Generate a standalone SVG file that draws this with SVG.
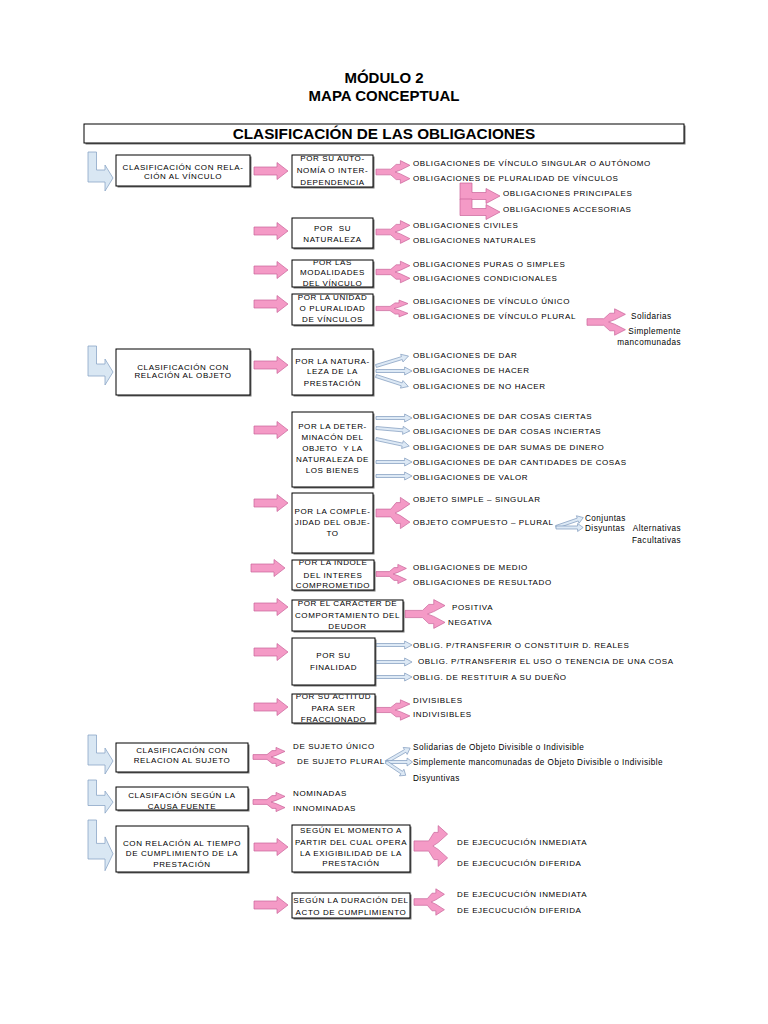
<svg xmlns="http://www.w3.org/2000/svg" xmlns:xlink="http://www.w3.org/1999/xlink" width="768" height="1024" viewBox="0 0 768 1024">
<defs>
<style>
.bg{fill:#fff}
.bx{fill:#fff;stroke:#000;stroke-width:1}
.sh{fill:#777}
.t{font-family:"Liberation Sans",Arial,sans-serif;font-size:8px;letter-spacing:0.6px;fill:#000}
.c{text-anchor:middle}
.e{text-anchor:end}
.s{font-family:"Liberation Sans",Arial,sans-serif;font-size:8.2px;letter-spacing:0.45px;fill:#000}
.h{font-family:"Liberation Sans",Arial,sans-serif;font-weight:bold;font-size:15px;text-anchor:middle;fill:#000}
.hh{font-size:15.3px}
.pk{fill:#f49ac6;stroke:#c9639a;stroke-width:0.7}
.lb{fill:#d9e7f3;stroke:#8ca6c6;stroke-width:0.8}
.bl{fill:#dde9f5;stroke:#7c98bb;stroke-width:0.7}
</style>
<path id="pa" d="M0,-4 H23 V-8.5 L34,0 L23,8.5 V4 H0 Z" vector-effect="non-scaling-stroke"/>
<path id="fk" d="M0,-3 H14 L19,-8 H23 V-12 L32,-7 L23,-2 L18,0 L23,2 L32,7 L23,12 V8 H19 L14,3 H0 Z" vector-effect="non-scaling-stroke"/>
<path id="lbx" d="M0,0 H8.5 V18 H17 V13 L25,26 L17,39 V30 H0 Z" vector-effect="non-scaling-stroke"/>
<path id="lp" d="M0,0 H12 V9.5 H26 V5.5 L40,13 L26,20.5 V16.5 H0 Z" vector-effect="non-scaling-stroke"/>
<path id="ba" d="M0,-1.5 H27 V-4 L34,0 L27,4 V1.5 H0 Z" vector-effect="non-scaling-stroke"/>
<clipPath id="c_auto"><rect x="292.5" y="155.5" width="80" height="31"/></clipPath>
<clipPath id="c_mod"><rect x="292.5" y="260.5" width="80" height="26"/></clipPath>
<clipPath id="c_uni"><rect x="292.5" y="294.5" width="80" height="30"/></clipPath>
<clipPath id="c_ind"><rect x="292.5" y="560.5" width="81" height="29"/></clipPath>
<clipPath id="c_car"><rect x="292.5" y="600.5" width="110" height="30"/></clipPath>
<clipPath id="c_act"><rect x="292.5" y="694.5" width="82" height="28"/></clipPath>
</defs>
<rect class="bg" x="0" y="0" width="768" height="1024"/>

<g id="title">
<text class="h" x="384" y="83">MÓDULO 2</text>
<text class="h" x="384" y="101">MAPA CONCEPTUAL</text>
</g>
<g id="header">
<rect class="sh" x="85.5" y="125.5" width="600" height="19"/>
<rect class="bx" x="84" y="124" width="600" height="19"/>
<text class="h hh" x="384" y="139">CLASIFICACIÓN DE LAS OBLIGACIONES</text>
</g>

<g id="connectors">
<use href="#lbx" class="lb" transform="translate(88,152)"/>
<use href="#lbx" class="lb" transform="translate(88,346)"/>
<use href="#lbx" class="lb" transform="translate(88,735)"/>
<use href="#lbx" class="lb" transform="translate(88,780) scale(1,0.85)"/>
<use href="#lbx" class="lb" transform="translate(88,820) scale(1,1.3)"/>

<use href="#pa" class="pk" transform="translate(254,171)"/>
<use href="#pa" class="pk" transform="translate(254,231)"/>
<use href="#pa" class="pk" transform="translate(254,270)"/>
<use href="#pa" class="pk" transform="translate(254,304)"/>
<use href="#pa" class="pk" transform="translate(254,365)"/>
<use href="#pa" class="pk" transform="translate(254,430)"/>
<use href="#pa" class="pk" transform="translate(254,503)"/>
<use href="#pa" class="pk" transform="translate(251,568)"/>
<use href="#pa" class="pk" transform="translate(254,607)"/>
<use href="#pa" class="pk" transform="translate(254,652)"/>
<use href="#pa" class="pk" transform="translate(254,707)"/>
<use href="#pa" class="pk" transform="translate(254,847)"/>
<use href="#pa" class="pk" transform="translate(254,905)"/>

<use href="#fk" class="pk" transform="translate(376,172) scale(1.06,0.95)"/>
<use href="#fk" class="pk" transform="translate(376,232) scale(1.06,0.95)"/>
<use href="#fk" class="pk" transform="translate(376,272) scale(1.06,0.9)"/>
<use href="#fk" class="pk" transform="translate(376,308.5) scale(1.0,0.7)"/>
<use href="#fk" class="pk" transform="translate(587,322) scale(1.2,1.1)"/>
<use href="#fk" class="pk" transform="translate(376,513) scale(1.06,1.3)"/>
<use href="#fk" class="pk" transform="translate(376,574) scale(0.95,0.8)"/>
<use href="#fk" class="pk" transform="translate(405,614) scale(1.25,1.2)"/>
<use href="#fk" class="pk" transform="translate(376,710) scale(1.06,0.85)"/>
<use href="#fk" class="pk" transform="translate(253,757) scale(1.0,0.8)"/>
<use href="#fk" class="pk" transform="translate(253,802) scale(1.0,0.8)"/>
<use href="#fk" class="pk" transform="translate(414,846) scale(1.05,1.7)"/>
<use href="#fk" class="pk" transform="translate(414,902) scale(0.95,1.1)"/>

<use href="#lp" class="pk" transform="translate(460,183)"/>
<use href="#lp" class="pk" transform="translate(460,199)"/>

<use href="#ba" class="bl" transform="translate(376,366) rotate(-17)"/>
<use href="#ba" class="bl" transform="translate(376,371) scale(1.06,1)"/>
<use href="#ba" class="bl" transform="translate(376,376) rotate(18)"/>

<use href="#ba" class="bl" transform="translate(376,418) scale(1.06,1)"/>
<use href="#ba" class="bl" transform="translate(376,428) rotate(5)"/>
<use href="#ba" class="bl" transform="translate(376,439) rotate(12)"/>
<use href="#ba" class="bl" transform="translate(376,462) scale(1.06,1)"/>
<use href="#ba" class="bl" transform="translate(376,476) scale(1.06,1)"/>

<use href="#ba" class="bl" transform="translate(556,527) rotate(-19) scale(0.85,1)"/>
<use href="#ba" class="bl" transform="translate(556,527.5) scale(0.8,1)"/>

<use href="#ba" class="bl" transform="translate(376,645) scale(1.06,1)"/>
<use href="#ba" class="bl" transform="translate(376,662) scale(1.06,1)"/>
<use href="#ba" class="bl" transform="translate(376,677) scale(1.06,1)"/>

<use href="#ba" class="bl" transform="translate(386,762) rotate(-30) scale(0.82,1)"/>
<use href="#ba" class="bl" transform="translate(386,762) scale(0.78,1)"/>
<use href="#ba" class="bl" transform="translate(386,762) rotate(34) scale(0.7,1)"/>
</g>

<g id="n_vinculo">
<rect class="sh" x="117.5" y="156.5" width="134" height="31"/>
<rect class="bx" x="116" y="155" width="134" height="31"/>
<text class="t c" x="183" y="169.5">CLASIFICACIÓN CON RELA-</text>
<text class="t c" x="183" y="178.5">CIÓN AL VÍNCULO</text>
</g>
<g id="n_autonomia">
<rect class="sh" x="293.5" y="156.5" width="81" height="32"/>
<rect class="bx" x="292" y="155" width="81" height="32"/>
<g clip-path="url(#c_auto)">
<text class="t c" x="332.5" y="161">POR SU AUTO-</text>
<text class="t c" x="332.5" y="173">NOMÍA O INTER-</text>
<text class="t c" x="332.5" y="184.5">DEPENDENCIA</text>
</g>
</g>
<g id="n_naturaleza">
<rect class="sh" x="293.5" y="219.5" width="81" height="30"/>
<rect class="bx" x="292" y="218" width="81" height="30"/>
<text class="t c" x="332.5" y="231" xml:space="preserve">POR  SU</text>
<text class="t c" x="332.5" y="242">NATURALEZA</text>
</g>
<g id="n_modalidades">
<rect class="sh" x="293.5" y="261.5" width="81" height="27"/>
<rect class="bx" x="292" y="260" width="81" height="27"/>
<g clip-path="url(#c_mod)">
<text class="t c" x="332.5" y="264.5">POR LAS</text>
<text class="t c" x="332.5" y="274.5">MODALIDADES</text>
<text class="t c" x="332.5" y="285.5">DEL VÍNCULO</text>
</g>
</g>
<g id="n_unidad">
<rect class="sh" x="293.5" y="295.5" width="81" height="31"/>
<rect class="bx" x="292" y="294" width="81" height="31"/>
<g clip-path="url(#c_uni)">
<text class="t c" x="332.5" y="299.5">POR LA UNIDAD</text>
<text class="t c" x="332.5" y="310.5">O PLURALIDAD</text>
<text class="t c" x="332.5" y="322">DE VÍNCULOS</text>
</g>
</g>
<g id="l_vinculo">
<text class="t" x="413" y="165.5">OBLIGACIONES DE VÍNCULO SINGULAR O AUTÓNOMO</text>
<text class="t" x="413" y="181">OBLIGACIONES DE PLURALIDAD DE VÍNCULOS</text>
<text class="t" x="503" y="196">OBLIGACIONES PRINCIPALES</text>
<text class="t" x="503" y="212">OBLIGACIONES ACCESORIAS</text>
<text class="t" x="413" y="228">OBLIGACIONES CIVILES</text>
<text class="t" x="413" y="243">OBLIGACIONES NATURALES</text>
<text class="t" x="413" y="267">OBLIGACIONES PURAS O SIMPLES</text>
<text class="t" x="413" y="281">OBLIGACIONES CONDICIONALES</text>
<text class="t" x="413" y="304">OBLIGACIONES DE VÍNCULO ÚNICO</text>
<text class="t" x="413" y="319">OBLIGACIONES DE VÍNCULO PLURAL</text>
<text class="s" x="631" y="319">Solidarias</text>
<text class="s e" x="681" y="334">Simplemente</text>
<text class="s e" x="681" y="345">mancomunadas</text>
</g>

<g id="n_objeto">
<rect class="sh" x="117.5" y="350.5" width="134" height="46"/>
<rect class="bx" x="116" y="349" width="134" height="46"/>
<text class="t c" x="183" y="369.5">CLASIFICACIÓN CON</text>
<text class="t c" x="183" y="378">RELACIÓN AL OBJETO</text>
</g>
<g id="n_prestacion">
<rect class="sh" x="293.5" y="350.5" width="81" height="46"/>
<rect class="bx" x="292" y="349" width="81" height="46"/>
<text class="t c" x="332.5" y="363.5">POR LA NATURA-</text>
<text class="t c" x="332.5" y="374">LEZA DE LA</text>
<text class="t c" x="332.5" y="385.5">PRESTACIÓN</text>
</g>
<g id="n_determinacion">
<rect class="sh" x="293.5" y="413.5" width="81" height="75"/>
<rect class="bx" x="292" y="412" width="81" height="75"/>
<text class="t c" x="332.5" y="428.5">POR LA DETER-</text>
<text class="t c" x="332.5" y="439.5">MINACÓN DEL</text>
<text class="t c" x="332.5" y="450.5" xml:space="preserve">OBJETO  Y LA</text>
<text class="t c" x="332.5" y="461.5">NATURALEZA DE</text>
<text class="t c" x="332.5" y="472.5">LOS BIENES</text>
</g>
<g id="n_complejidad">
<rect class="sh" x="293.5" y="494.5" width="81" height="60"/>
<rect class="bx" x="292" y="493" width="81" height="60"/>
<text class="t c" x="332.5" y="514">POR LA COMPLE-</text>
<text class="t c" x="332.5" y="525">JIDAD DEL OBJE-</text>
<text class="t c" x="332.5" y="536">TO</text>
</g>
<g id="n_indole">
<rect class="sh" x="293.5" y="561.5" width="82" height="30"/>
<rect class="bx" x="292" y="560" width="82" height="30"/>
<g clip-path="url(#c_ind)">
<text class="t c" x="333" y="564.5">POR LA INDOLE</text>
<text class="t c" x="333" y="577.5">DEL INTERES</text>
<text class="t c" x="333" y="588">COMPROMETIDO</text>
</g>
</g>
<g id="n_caracter">
<rect class="sh" x="293.5" y="601.5" width="111" height="31"/>
<rect class="bx" x="292" y="600" width="111" height="31"/>
<g clip-path="url(#c_car)">
<text class="t c" x="347.5" y="605.5">POR EL CARACTER DE</text>
<text class="t c" x="347.5" y="618">COMPORTAMIENTO DEL</text>
<text class="t c" x="347.5" y="628.5">DEUDOR</text>
</g>
</g>
<g id="n_finalidad">
<rect class="sh" x="293.5" y="639.5" width="83" height="47"/>
<rect class="bx" x="292" y="638" width="83" height="47"/>
<text class="t c" x="333.5" y="658">POR SU</text>
<text class="t c" x="333.5" y="670">FINALIDAD</text>
</g>
<g id="n_actitud">
<rect class="sh" x="293.5" y="695.5" width="83" height="29"/>
<rect class="bx" x="292" y="694" width="83" height="29"/>
<g clip-path="url(#c_act)">
<text class="t c" x="333.5" y="698.5">POR SU ACTITUD</text>
<text class="t c" x="333.5" y="711">PARA SER</text>
<text class="t c" x="333.5" y="722">FRACCIONADO</text>
</g>
</g>
<g id="l_objeto">
<text class="t" x="413" y="357.5">OBLIGACIONES DE DAR</text>
<text class="t" x="413" y="373">OBLIGACIONES DE HACER</text>
<text class="t" x="413" y="389">OBLIGACIONES DE NO HACER</text>
<text class="t" x="413" y="419">OBLIGACIONES DE DAR COSAS CIERTAS</text>
<text class="t" x="413" y="433.5">OBLIGACIONES DE DAR COSAS INCIERTAS</text>
<text class="t" x="413" y="450">OBLIGACIONES DE DAR SUMAS DE DINERO</text>
<text class="t" x="413" y="464.5">OBLIGACIONES DE DAR CANTIDADES DE COSAS</text>
<text class="t" x="413" y="479.5">OBLIGACIONES DE VALOR</text>
<text class="t" x="413" y="502">OBJETO SIMPLE – SINGULAR</text>
<text class="t" x="413" y="525">OBJETO COMPUESTO – PLURAL</text>
<text class="s" x="585" y="521">Conjuntas</text>
<text class="s" x="585" y="531">Disyuntas</text>
<text class="s e" x="681" y="531">Alternativas</text>
<text class="s e" x="681" y="543">Facultativas</text>
<text class="t" x="413" y="570">OBLIGACIONES DE MEDIO</text>
<text class="t" x="413" y="585">OBLIGACIONES DE RESULTADO</text>
<text class="t" x="452" y="610">POSITIVA</text>
<text class="t" x="448" y="625">NEGATIVA</text>
<text class="t" x="413" y="648">OBLIG. P/TRANSFERIR O CONSTITUIR D. REALES</text>
<text class="t" x="418" y="664">OBLIG. P/TRANSFERIR EL USO O TENENCIA DE UNA COSA</text>
<text class="t" x="413" y="680">OBLIG. DE RESTITUIR A SU DUEÑO</text>
<text class="t" x="413" y="703">DIVISIBLES</text>
<text class="t" x="413" y="717">INDIVISIBLES</text>
</g>

<g id="n_sujeto">
<rect class="sh" x="117.5" y="744.5" width="132" height="29"/>
<rect class="bx" x="116" y="743" width="132" height="29"/>
<text class="t c" x="182" y="753">CLASIFICACIÓN CON</text>
<text class="t c" x="182" y="763">RELACION AL SUJETO</text>
</g>
<g id="l_sujeto">
<text class="t" x="293" y="749">DE SUJETO ÚNICO</text>
<text class="t" x="297" y="764">DE SUJETO PLURAL</text>
<text class="s" x="413" y="750">Solidarias de Objeto Divisible o Indivisible</text>
<text class="s" x="413" y="765">Simplemente mancomunadas de Objeto Divisible o Indivisible</text>
<text class="s" x="413" y="781">Disyuntivas</text>
</g>
<g id="n_causa">
<rect class="sh" x="117.5" y="788.5" width="132" height="23"/>
<rect class="bx" x="116" y="787" width="132" height="23"/>
<text class="t c" x="182" y="798">CLASIFACIÓN SEGÚN LA</text>
<text class="t c" x="182" y="808.5">CAUSA FUENTE</text>
</g>
<g id="l_causa">
<text class="t" x="293" y="796">NOMINADAS</text>
<text class="t" x="293" y="811">INNOMINADAS</text>
</g>
<g id="n_tiempo">
<rect class="sh" x="117.5" y="827.5" width="132" height="46"/>
<rect class="bx" x="116" y="826" width="132" height="46"/>
<text class="t c" x="182" y="846">CON RELACIÓN AL TIEMPO</text>
<text class="t c" x="182" y="856">DE CUMPLIMIENTO DE LA</text>
<text class="t c" x="182" y="866.5">PRESTACIÓN</text>
</g>
<g id="n_momento">
<rect class="sh" x="293.5" y="826.5" width="118" height="47"/>
<rect class="bx" x="292" y="825" width="118" height="47"/>
<text class="t c" x="351" y="833">SEGÚN EL MOMENTO A</text>
<text class="t c" x="351" y="845">PARTIR DEL CUAL OPERA</text>
<text class="t c" x="351" y="855.5">LA EXIGIBILIDAD DE LA</text>
<text class="t c" x="351" y="866">PRESTACIÓN</text>
</g>
<g id="n_duracion">
<rect class="sh" x="293.5" y="894.5" width="118" height="25"/>
<rect class="bx" x="292" y="893" width="118" height="25"/>
<text class="t c" x="351" y="903">SEGÚN LA DURACIÓN DEL</text>
<text class="t c" x="351" y="914.5">ACTO DE CUMPLIMIENTO</text>
</g>
<g id="l_tiempo">
<text class="t" x="457" y="845">DE EJECUCUCIÓN INMEDIATA</text>
<text class="t" x="457" y="866">DE EJECUCUCIÓN DIFERIDA</text>
<text class="t" x="457" y="897">DE EJECUCUCIÓN INMEDIATA</text>
<text class="t" x="457" y="913">DE EJECUCUCIÓN DIFERIDA</text>
</g>
</svg>
